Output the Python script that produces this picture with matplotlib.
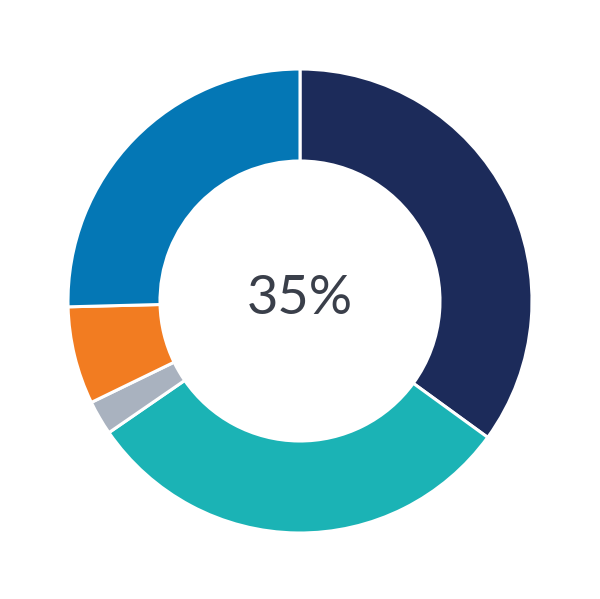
import matplotlib
matplotlib.use("Agg")
import matplotlib.pyplot as plt

labels = ["Navy", "Teal", "Gray", "Orange", "Blue"]
values = [35.0, 30.4, 2.4, 6.8, 25.4]
colors = ["#1c2b5a", "#1bb3b5", "#a9b2bf", "#f27c21", "#0477b5"]
center_label = "35%"

fig = plt.figure(figsize=(6.0, 5.99), dpi=100)
ax = fig.add_axes([0, 0, 1, 1])

ax.pie(values, colors=colors, startangle=90, counterclock=False,
       center=(300, 298), radius=232, frame=True,
       wedgeprops=dict(width=92, edgecolor="white", linewidth=2.2))
ax.set_xlim(0, 600)
ax.set_ylim(0, 599)
ax.set_aspect("equal")
ax.axis("off")

ax.text(300, 300, center_label, ha="center", va="center", fontsize=39,
        color="#3a3f4a", family=["Lato", "DejaVu Sans"], fontweight="normal")

fig.savefig("out.png", dpi=100, facecolor="white")
